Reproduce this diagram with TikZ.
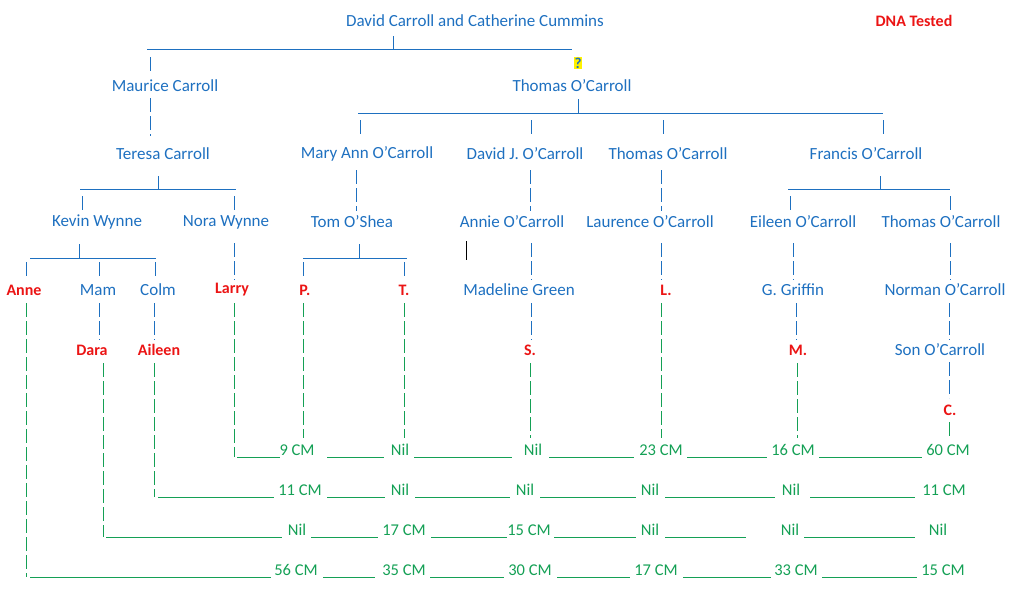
\documentclass[tikz,border=0pt]{standalone}
\usepackage{fontspec}
\setmainfont{Carlito}
\definecolor{cb}{RGB}{30,112,192}
\definecolor{cr}{RGB}{235,20,20}
\definecolor{cg}{RGB}{20,160,85}
\begin{document}
\begin{tikzpicture}[x=1pt,y=-1pt,
  lb/.style={text=cb,font=\fontsize{17}{17}\selectfont,inner sep=0pt},
  lr/.style={text=cr,font=\bfseries\fontsize{16}{16}\selectfont,inner sep=0pt},
  lg/.style={text=cg,font=\fontsize{16.5}{16.5}\selectfont,inner sep=0pt},
  hb/.style={draw=cb,line width=0.8pt},
  hg/.style={draw=cg,line width=0.8pt},
  vb/.style={draw=cb,line width=1pt,dash pattern=on 14pt off 4pt},
  vg/.style={draw=cg,line width=1pt,dash pattern=on 14pt off 4pt}]
\useasboundingbox (0,0) rectangle (1016,595);
% row 0
\node[lb] (dc) at (475,21) {David Carroll and Catherine Cummins};
\node[lr,font=\bfseries\fontsize{16}{16}\selectfont] (dna) at (914,21) {DNA Tested};
\draw[hb] (147,49) -- (572,49);
\draw[vb] (393,36) -- (393,50);
\draw[vb] (150,57) -- (150,72);
\node[fill=yellow,inner sep=1pt,text=cb,font=\bfseries\fontsize{15}{15}\selectfont] (q) at (578,63) {?};
% row 1
\node[lb] (mc) at (165,86) {Maurice Carroll};
\node[lb] (toc) at (572,86) {Thomas O'Carroll};
\draw[vb] (150,98) -- (150,136);
\draw[hb] (358,113) -- (883,113);
\draw[vb] (578,99) -- (578,113);
\foreach \x in {360,531,663,883} \draw[vb] (\x,120) -- (\x,137);
% row 2
\node[lb] (tc) at (163,154) {Teresa Carroll};
\node[lb] (ma) at (367,154) {Mary Ann O'Carroll};
\node[lb] (dj) at (525,154) {David J. O'Carroll};
\node[lb] (to2) at (668,154) {Thomas O'Carroll};
\node[lb] (fo) at (866,154) {Francis O'Carroll};
\draw[hb] (80,189) -- (236,189);  \draw[vb] (158,176) -- (158,190);
\draw[hb] (788,189) -- (950,189); \draw[vb] (880,176) -- (880,190);
\foreach \x in {82,234,790,950} \draw[vb] (\x,196) -- (\x,211);
\foreach \x in {356,530,661} \draw[vb] (\x,170) -- (\x,211);
% row 3
\node[lb] (kw) at (97,222) {Kevin Wynne};
\node[lb] (nw) at (226,222) {Nora Wynne};
\node[lb] (tos) at (352,222) {Tom O'Shea};
\node[lb] (ao) at (512,222) {Annie O'Carroll};
\node[lb] (lo) at (650,222) {Laurence O'Carroll};
\node[lb] (eo) at (803,222) {Eileen O'Carroll};
\node[lb] (to3) at (941,222) {Thomas O'Carroll};
\draw[black,line width=0.8pt] (466,241) -- (466,260);
\draw[hb] (30,258) -- (156,258); \draw[vb] (79,244) -- (79,258);
\draw[hb] (303,258) -- (407,258); \draw[vb] (359,244) -- (359,258);
\foreach \x in {26,99,155,303,404} \draw[vb] (\x,262) -- (\x,280);
\foreach \x in {234,531,661,793,950} \draw[vb] (\x,243) -- (\x,280);
% row 4
\node[lr] (anne) at (24,290) {Anne};
\node[lb] (mam) at (98,290) {Mam};
\node[lb] (colm) at (158,290) {Colm};
\node[lr] (larry) at (232,290) {Larry};
\node[lr] (p) at (305,290) {P.};
\node[lr] (t) at (404,290) {T.};
\node[lb] (mg) at (519,290) {Madeline Green};
\node[lr] (l) at (666,290) {L.};
\node[lb] (gg) at (793,290) {G. Griffin};
\node[lb] (no) at (945,290) {Norman O'Carroll};
\foreach \x in {99,154,531,796,949} \draw[vb] (\x,303) -- (\x,340);
% row 5
\node[lr] (dara) at (92,350) {Dara};
\node[lr] (aileen) at (159,350) {Aileen};
\node[lr] (s) at (530,350) {S.};
\node[lr] (m) at (798,350) {M.};
\node[lb] (so) at (940,350) {Son O'Carroll};
\draw[vb] (949,362) -- (949,398);
\node[lr] (c) at (950,410) {C.};
% green verticals
\draw[vg] (26,303) -- (26,577);
\draw[vg] (234,303) -- (234,457);
\foreach \x in {303,404,661} \draw[vg] (\x,303) -- (\x,438);
\draw[vg] (103,363) -- (103,537);
\draw[vg] (154,363) -- (154,497);
\foreach \x in {530,797} \draw[vg] (\x,363) -- (\x,438);
\draw[vg] (949,422) -- (949,438);
% results rows
\foreach \a/\b in {237/280,327/384,414/512,549/634,687/767,819/922} \draw[hg] (\a,457) -- (\b,457);
\node[lg] at (297,450) {9 CM};  \node[lg] at (400,450) {Nil}; \node[lg] at (533,450) {Nil};
\node[lg] at (661,450) {23 CM}; \node[lg] at (793,450) {16 CM}; \node[lg] at (948,450) {60 CM};
\foreach \a/\b in {158/274,327/385,415/510,540/636,665/775,810/915} \draw[hg] (\a,497) -- (\b,497);
\node[lg] at (300,490) {11 CM}; \node[lg] at (400,490) {Nil}; \node[lg] at (525,490) {Nil};
\node[lg] at (650,490) {Nil}; \node[lg] at (791,490) {Nil}; \node[lg] at (944,490) {11 CM};
\foreach \a/\b in {106/282,311/378,431/507,554/636,665/746,804/915} \draw[hg] (\a,537) -- (\b,537);
\node[lg] at (297,530) {Nil}; \node[lg] at (404,530) {17 CM}; \node[lg] at (529,530) {15 CM};
\node[lg] at (650,530) {Nil}; \node[lg] at (790,530) {Nil}; \node[lg] at (938,530) {Nil};
\foreach \a/\b in {30/271,323/375,430/504,557/630,683/771,822/917} \draw[hg] (\a,577) -- (\b,577);
\node[lg] at (296,570) {56 CM}; \node[lg] at (404,570) {35 CM}; \node[lg] at (530,570) {30 CM};
\node[lg] at (656,570) {17 CM}; \node[lg] at (796,570) {33 CM}; \node[lg] at (943,570) {15 CM};
\end{tikzpicture}
\end{document}
